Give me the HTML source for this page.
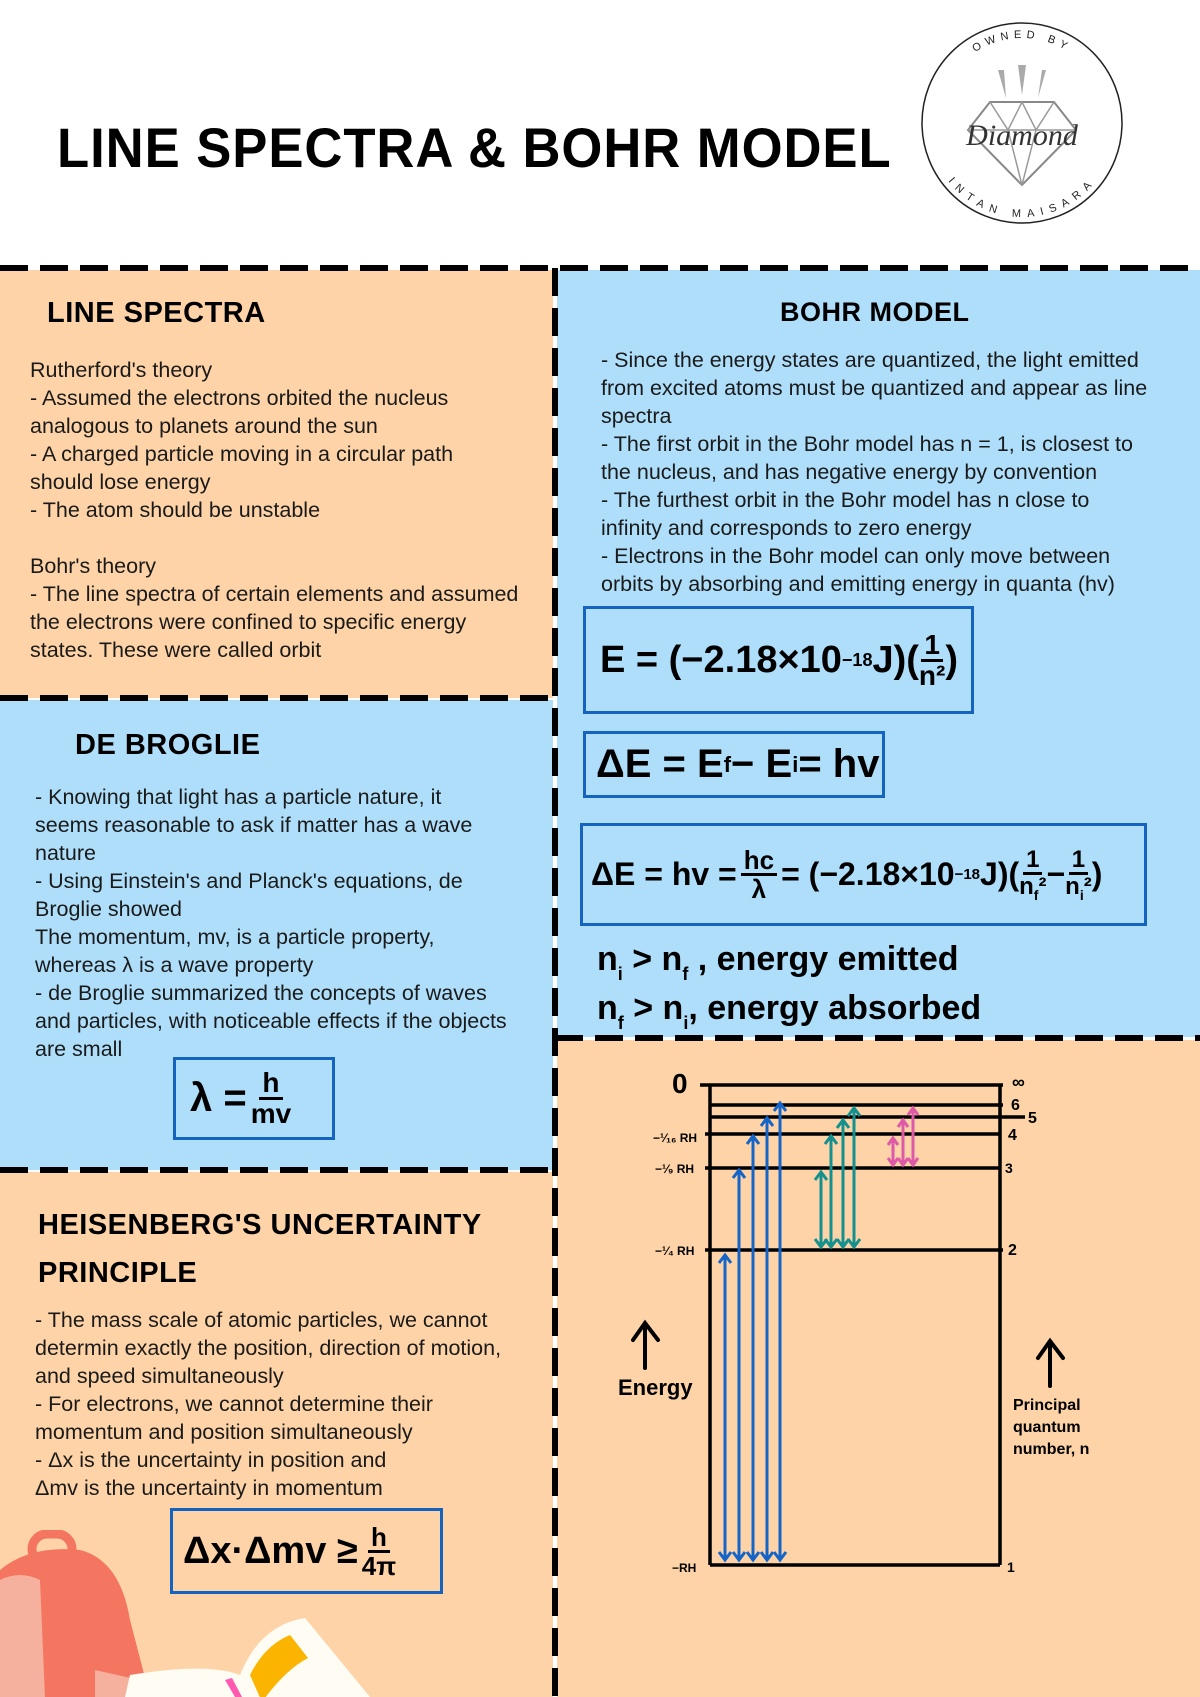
<!DOCTYPE html>
<html><head><meta charset="utf-8"><style>
*{margin:0;padding:0;box-sizing:border-box}
body{width:1200px;height:1697px;position:relative;background:#fff;font-family:"Liberation Sans",sans-serif;overflow:hidden;color:#111}
.p{position:absolute}
.or{background:#FDD3A7}.bl{background:#AEDEFA}
.hd{position:absolute;font-weight:900;font-size:29px;color:#000;letter-spacing:0.5px;white-space:nowrap}
.tx{position:absolute;font-size:21.5px;line-height:28px;white-space:nowrap;color:#1a1a1a}
.hd2{position:absolute;height:6px;background:repeating-linear-gradient(90deg,#000 0 28px,transparent 28px 40px)}
.vd{position:absolute;width:6px;background:repeating-linear-gradient(180deg,#000 0 28px,transparent 28px 40px)}
.box{position:absolute;border:3px solid #1463be;font-weight:bold;color:#000;display:flex;align-items:center;white-space:nowrap}
.fr{display:inline-flex;flex-direction:column;align-items:center;line-height:1;vertical-align:middle}
.fr span:first-child{border-bottom:3px solid #000;padding:0 3px}
.sb{font-size:18px;position:relative;top:10px}
</style></head><body>
<div class="p or" style="left:0;top:270px;width:553px;height:428px"></div>
<div class="p bl" style="left:0;top:700px;width:553px;height:470px"></div>
<div class="p or" style="left:0;top:1172px;width:553px;height:525px"></div>
<div class="p bl" style="left:557px;top:270px;width:643px;height:767px"></div>
<div class="p or" style="left:557px;top:1040px;width:643px;height:657px"></div>
<div class="hd2" style="left:0;top:265px;width:1200px"></div>
<div class="hd2" style="left:0;top:695px;width:555px"></div>
<div class="hd2" style="left:0;top:1167px;width:555px"></div>
<div class="hd2" style="left:555px;top:1035px;width:645px"></div>
<div class="vd" style="left:552px;top:268px;height:1429px"></div>

<div class="p" style="left:57px;top:115px;font-weight:900;font-size:56px;white-space:nowrap;transform:scaleX(0.94);transform-origin:left;color:#000;letter-spacing:1px">LINE SPECTRA &amp; BOHR MODEL</div>
<svg class="p" style="left:918px;top:20px" width="210" height="210" viewBox="0 0 210 210">
<defs>
<path id="tp" d="M19 103 A85 85 0 0 1 189 103"/>
<path id="bp" d="M14 103 A90 90 0 0 0 194 103"/>
</defs>
<circle cx="104" cy="103" r="100" fill="none" stroke="#222" stroke-width="1.5"/>
<path d="M50 110 L72 82 L136 82 L158 110 L104 165 Z" fill="none" stroke="#888" stroke-width="2"/>
<path d="M72 82 L90 110 L104 82 L118 110 L136 82 M50 110 L158 110 M90 110 L104 165 L118 110" fill="none" stroke="#999" stroke-width="1.5"/>
<path d="M80 50 L88 78 L86 50Z M100 45 L104 75 L108 45Z M124 50 L120 78 L128 50Z" fill="#aaa"/>
<text x="104" y="125" font-family="Liberation Serif" font-style="italic" font-size="30" text-anchor="middle" fill="#333">Diamond</text>
<text font-size="11" letter-spacing="5" fill="#222"><textPath href="#tp" startOffset="50%" text-anchor="middle">OWNED BY</textPath></text>
<text font-size="11" letter-spacing="6" fill="#222" dy="4"><textPath href="#bp" startOffset="50%" text-anchor="middle">INTAN MAISARA</textPath></text>
</svg>

<div class="hd" style="left:47px;top:297px">LINE SPECTRA</div>
<div class="tx" style="left:30px;top:356px">Rutherford's theory<br>- Assumed the electrons orbited the nucleus<br>analogous to planets around the sun<br>- A charged particle moving in a circular path<br>should lose energy<br>- The atom should be unstable<br><br>Bohr's theory<br>- The line spectra of certain elements and assumed<br>the electrons were confined to specific energy<br>states. These were called orbit</div>

<div class="hd" style="left:780px;top:297px;font-size:27px">BOHR MODEL</div>
<div class="tx" style="left:601px;top:346px">- Since the energy states are quantized, the light emitted<br>from excited atoms must be quantized and appear as line<br>spectra<br>- The first orbit in the Bohr model has n = 1, is closest to<br>the nucleus, and has negative energy by convention<br>- The furthest orbit in the Bohr model has n close to<br>infinity and corresponds to zero energy<br>- Electrons in the Bohr model can only move between<br>orbits by absorbing and emitting energy in quanta (hv)</div>

<div class="box" style="left:583px;top:606px;width:391px;height:108px;padding-left:14px;font-size:38px">E = (−2.18×10<sup style="font-size:18px">−18</sup>J)(<span class="fr" style="font-size:28px"><span>1</span><span>n²</span></span>)</div>
<div class="box" style="left:583px;top:731px;width:302px;height:67px;padding-left:10px;font-size:40px">ΔE = E<sub style="font-size:22px">f</sub> − E<sub style="font-size:22px">i</sub> = hv</div>
<div class="box" style="left:580px;top:823px;width:567px;height:103px;padding-left:8px;font-size:32px">ΔE = hv = <span class="fr" style="font-size:26px;margin:0 4px"><span>hc</span><span>λ</span></span> = (−2.18×10<sup style="font-size:15px">−18</sup>J)(<span class="fr" style="font-size:24px"><span>1</span><span>n<sub style="font-size:14px">f</sub>²</span></span> − <span class="fr" style="font-size:24px"><span>1</span><span>n<sub style="font-size:14px">i</sub>²</span></span>)</div>
<div class="p" style="left:597px;top:937px;font-size:34px;font-weight:bold;line-height:44px;white-space:nowrap;color:#000">n<span class="sb">i</span> &gt; n<span class="sb">f</span> , energy emitted<br>n<span class="sb">f</span> &gt; n<span class="sb">i</span>, energy absorbed</div>

<div class="hd" style="left:75px;top:729px">DE BROGLIE</div>
<div class="tx" style="left:35px;top:783px">- Knowing that light has a particle nature, it<br>seems reasonable to ask if matter has a wave<br>nature<br>- Using Einstein's and Planck's equations, de<br>Broglie showed<br>The momentum, mv, is a particle property,<br>whereas λ is a wave property<br>- de Broglie summarized the concepts of waves<br>and particles, with noticeable effects if the objects<br>are small</div>
<div class="box" style="left:173px;top:1057px;width:162px;height:83px;padding-left:14px;font-size:40px">λ = <span class="fr" style="font-size:28px;margin-left:4px"><span>h</span><span>mv</span></span></div>

<div class="hd" style="left:38px;top:1201px;line-height:48px">HEISENBERG'S UNCERTAINTY<br>PRINCIPLE</div>
<div class="tx" style="left:35px;top:1306px">- The mass scale of atomic particles, we cannot<br>determin exactly the position, direction of motion,<br>and speed simultaneously<br>- For electrons, we cannot determine their<br>momentum and position simultaneously<br>- Δx is the uncertainty in position and<br>Δmv is the uncertainty in momentum</div>
<div class="box" style="left:170px;top:1508px;width:273px;height:86px;padding-left:10px;font-size:38px">Δx·Δmv ≥ <span class="fr" style="font-size:26px;margin-left:4px"><span>h</span><span>4π</span></span></div>

<svg class="p" style="left:0;top:1530px" width="400" height="167">
<path d="M0 40 Q30 15 80 20 Q120 30 130 90 L150 167 L0 167Z" fill="#f47560"/>
<path d="M0 50 Q20 40 40 50 L45 167 L0 167Z" fill="#f5b09e"/>
<rect x="32" y="4" width="40" height="30" rx="15" fill="none" stroke="#f47560" stroke-width="9"/>
<path d="M95 140 L140 150 L125 167 L95 167Z" fill="#f5b09e"/>
<path d="M130 145 Q220 130 250 150 L255 167 L125 167Z" fill="#fffdf3"/>
<path d="M240 145 Q260 95 305 88 L370 167 L255 167Z" fill="#fffdf3"/>
<path d="M250 145 Q265 115 290 105 L308 128 Q285 140 262 172Z" fill="#fbb400"/>
<path d="M225 150 L235 167 L242 167 L232 148Z" fill="#ff5ab0"/>
</svg>

<svg class="p" style="left:557px;top:1040px" width="643" height="657" viewBox="557 1040 643 657">
<g stroke="#000" stroke-width="3.5" fill="none">
<path d="M710 1085 V1565 M1000 1085 V1565"/>
<path d="M700 1085 H1003 M710 1105 H1003 M710 1117 H1025 M705 1134 H1000 M705 1168 H1000 M705 1250 H1003 M710 1565 H1000"/>
</g>
<g stroke="#1565c8" stroke-width="3" fill="none">
<path d="M725 1255 V1560 M739 1170 V1560 M753 1136 V1560 M767 1118 V1560 M780 1103 V1560"/>
<path d="M719 1263 L725 1255 L731 1263 M733 1178 L739 1170 L745 1178 M747 1144 L753 1136 L759 1144 M761 1126 L767 1118 L773 1126 M774 1111 L780 1103 L786 1111"/>
<path d="M719 1552 L725 1560 L731 1552 M733 1552 L739 1560 L745 1552 M747 1552 L753 1560 L759 1552 M761 1552 L767 1560 L773 1552 M774 1552 L780 1560 L786 1552"/>
</g>
<g stroke="#14908f" stroke-width="3" fill="none">
<path d="M821 1172 V1247 M831 1136 V1247 M843 1120 V1247 M854 1108 V1247"/>
<path d="M815 1180 L821 1172 L827 1180 M825 1144 L831 1136 L837 1144 M837 1128 L843 1120 L849 1128 M848 1116 L854 1108 L860 1116"/>
<path d="M815 1239 L821 1247 L827 1239 M825 1239 L831 1247 L837 1239 M837 1239 L843 1247 L849 1239 M848 1239 L854 1247 L860 1239"/>
</g>
<g stroke="#de5aa8" stroke-width="3" fill="none">
<path d="M893 1138 V1165 M903 1120 V1165 M913 1108 V1165"/>
<path d="M888 1145 L893 1138 L898 1145 M898 1127 L903 1120 L908 1127 M908 1115 L913 1108 L918 1115"/>
<path d="M888 1158 L893 1165 L898 1158 M898 1158 L903 1165 L908 1158 M908 1158 L913 1165 L918 1158"/>
</g>
<g font-family="Liberation Sans" font-weight="bold" fill="#000">
<text x="672" y="1093" font-size="28">0</text>
<text x="1012" y="1088" font-size="18">∞</text>
<text x="1011" y="1110" font-size="16">6</text>
<text x="1028" y="1123" font-size="16">5</text>
<text x="1008" y="1140" font-size="16">4</text>
<text x="1005" y="1173" font-size="14">3</text>
<text x="1008" y="1255" font-size="16">2</text>
<text x="1007" y="1572" font-size="14">1</text>
<text x="653" y="1142" font-size="12">−¹⁄₁₆ RH</text>
<text x="655" y="1173" font-size="12">−¹⁄₉ RH</text>
<text x="655" y="1255" font-size="12">−¹⁄₄ RH</text>
<text x="672" y="1572" font-size="12">−RH</text>
<text x="618" y="1395" font-size="22">Energy</text>
<text x="1013" y="1410" font-size="16">Principal</text>
<text x="1013" y="1432" font-size="16">quantum</text>
<text x="1013" y="1454" font-size="16">number, n</text>
</g>
<g stroke="#000" stroke-width="4" fill="none" stroke-linecap="round">
<path d="M645 1368 V1325 M633 1340 L645 1323 L658 1340"/>
<path d="M1050 1386 V1343 M1038 1358 L1050 1341 L1063 1358"/>
</g>
</svg>
</body></html>
